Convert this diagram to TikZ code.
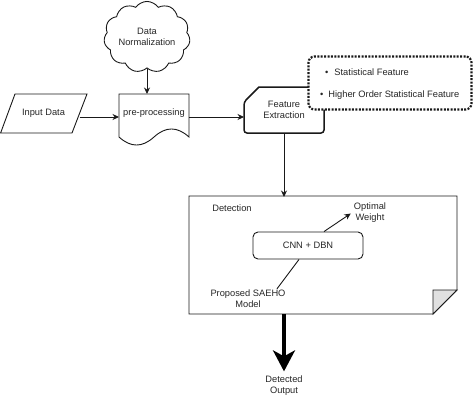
\documentclass[tikz,border=0pt]{standalone}
\usepackage{fontspec}
\setmainfont{Liberation Sans}
\usetikzlibrary{arrows.meta,shapes.symbols,calc}
\begin{document}
\begin{tikzpicture}[x=1pt,y=-1pt,
  font=\fontsize{9.3}{11.2}\selectfont,
  ln/.style={draw=black!90,line width=0.9pt},
  arr/.style={draw=black!90,line width=0.9pt,-{Stealth[length=6.5pt,width=6pt]}},
  txt/.style={text=black!85,align=center,inner sep=1pt},
  hold/.style={inner sep=0pt,outer sep=0pt,align=center,text=black!85}]
\useasboundingbox (0,0) rectangle (474,402);

% Input Data parallelogram
\draw[ln] (15,94) -- (87,94) -- (72,133) -- (0.6,133) -- cycle;
\node[hold,minimum width=72pt,minimum height=39pt] (inp) at (43.5,113.5) {Input Data};

% Cloud
\node[cloud,cloud puffs=11,cloud puff arc=110,aspect=1.3,draw=black!90,line width=0.9pt,
  minimum width=72pt,minimum height=54pt,inner sep=0pt,align=center,text=black!85] (cloud) at (147,37) {Data\\Normalization};

% pre-processing document shape
\draw[ln] (119,94) -- (189,94) -- (189,137)
  .. controls (177.3,126.3) and (165.7,126.3) .. (154,137)
  .. controls (142.3,147.7) and (130.7,147.7) .. (119,137) -- cycle;
\node[hold,minimum width=70pt,minimum height=46pt] (pre) at (154,117) {};
\node[txt] (pretxt) at (154,113) {pre-processing};

% Feature extraction
\draw[draw=black!90,line width=1.5pt,rounded corners=3pt] (244,102) [sharp corners]-- (259,87) [rounded corners=3pt] -- (324,87) -- (324,133) -- (244,133) -- cycle;
\node[hold,minimum width=80pt,minimum height=46pt] (fe) at (284,110) {Feature\\Extraction};

% Dotted feature list
\node[draw=black!90,line width=2.2pt,dash pattern=on 2pt off 1.4pt,rounded corners=6pt,
  minimum width=163pt,minimum height=53pt,fill=white] (feat) at (390,83) {};
\node[txt,anchor=west] (f1) at (324,72) {\textbullet\hspace{6pt}Statistical Feature};
\node[txt,anchor=west] (f2) at (319,95) {\textbullet\hspace{5pt}Higher Order Statistical Feature};

% Detection note shape
\draw[ln] (189,196) -- (457,196) -- (457,290) -- (433,314) -- (189,314) -- cycle;
\draw[ln,fill=black!12] (433,290) -- (457,290) -- (433,314) -- cycle;
\node[hold,minimum width=268pt,minimum height=118pt] (det) at (323,255) {};
\node[txt] (dettxt) at (232,208) {Detection};

% CNN + DBN
\node[draw=black!90,line width=0.9pt,rounded corners=5pt,minimum width=110pt,minimum height=27pt,
  text=black!85] (cnn) at (308,245.5) {CNN + DBN};
\node[txt] (opt) at (370,212.5) {Optimal\\Weight};
\node[txt] (prop) at (248,299) {Proposed SAEHO\\Model};

\draw[arr] ([xshift=16pt]cnn.north) -- ($(opt.west)+(-2,1)$);
\draw[ln] ([xshift=29pt]prop.north) -- ([xshift=-9pt]cnn.south);

% Output
\node[txt] (out) at (284,385.5) {Detected\\Output};

% Connectors
\draw[arr] (inp.east |- pre.west) -- (pre.west);
\draw[arr] (cloud.center |- cloud.south) -- (cloud.center |- pre.north);
\draw[arr] (pre.east) -- (pre.east -| fe.west);
\draw[arr] (fe.south) -- ([yshift=-1pt]fe.south |- det.north);
\draw[draw=black,line width=3.5pt,-{Stealth[length=21pt,width=22pt,inset=6pt]}] (fe.south |- det.south) -- ([yshift=3pt]out.north);
\end{tikzpicture}
\end{document}
